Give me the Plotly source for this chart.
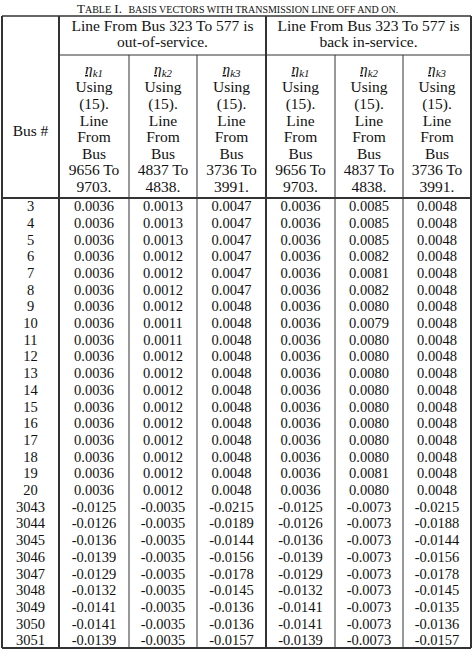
import plotly.graph_objects as go

buses = ["3", "4", "5", "6", "7", "8", "9", "10", "11", "12", "13", "14", "15", "16",
         "17", "18", "19", "20", "3043", "3044", "3045", "3046", "3047", "3048",
         "3049", "3050", "3051"]
off_k1 = ["0.0036"] * 18 + ["-0.0125", "-0.0126", "-0.0136", "-0.0139", "-0.0129",
                            "-0.0132", "-0.0141", "-0.0141", "-0.0139"]
off_k2 = ["0.0013", "0.0013", "0.0013", "0.0012", "0.0012", "0.0012", "0.0012",
          "0.0011", "0.0011", "0.0012", "0.0012", "0.0012", "0.0012", "0.0012",
          "0.0012", "0.0012", "0.0012", "0.0012"] + ["-0.0035"] * 9
off_k3 = ["0.0047"] * 6 + ["0.0048"] * 12 + ["-0.0215", "-0.0189", "-0.0144", "-0.0156",
                                             "-0.0178", "-0.0145", "-0.0136", "-0.0136", "-0.0157"]
on_k1 = list(off_k1)
on_k2 = ["0.0085", "0.0085", "0.0085", "0.0082", "0.0081", "0.0082", "0.0080",
         "0.0079", "0.0080", "0.0080", "0.0080", "0.0080", "0.0080", "0.0080",
         "0.0080", "0.0080", "0.0081", "0.0080"] + ["-0.0073"] * 9
on_k3 = ["0.0048"] * 18 + ["-0.0215", "-0.0188", "-0.0144", "-0.0156", "-0.0178",
                           "-0.0145", "-0.0135", "-0.0136", "-0.0157"]
columns = [buses, off_k1, off_k2, off_k3, on_k1, on_k2, on_k3]

group_titles = ["Line From Bus 323 To 577 is", "Line From Bus 323 To 577 is"]
group_subtitles = ["out-of-service.", "back in-service."]
eta_labels = ["k1", "k2", "k3", "k1", "k2", "k3"]
line_from = ["9656 To", "4837 To", "3736 To"] * 2
line_to = ["9703.", "4838.", "3991."] * 2

# layout (pixel-like axis units)
edges = [2, 59, 129, 197, 266, 335, 403, 471]
thick = {0, 1, 4, 7}
top, mid, hdr, bottom = 16, 55, 198, 648
row0, row_h = 207.5, 16.7
sub_y0, sub_h = 72, 16.6
FONT = "Liberation Serif"

fig = go.Figure()
centres = [(edges[i] + edges[i + 1]) / 2 for i in range(7)]

# data cells
xs, ys, ts = [], [], []
for c, col in enumerate(columns):
    for r, v in enumerate(col):
        xs.append(centres[c]); ys.append(row0 + r * row_h); ts.append(v)
fig.add_trace(go.Scatter(x=xs, y=ys, text=ts, mode="text", hoverinfo="skip",
                         textfont=dict(family=FONT, size=14.5, color="#111")))

# sub-headers
hx, hy, ht = [], [], []
for c in range(6):
    lines = ["<i><u>η</u><sub>%s</sub></i>" % eta_labels[c], "Using", "(15).", "Line",
             "From", "Bus", line_from[c], line_to[c]]
    for j, t in enumerate(lines):
        hx.append(centres[c + 1]); hy.append(sub_y0 + j * sub_h - (2 if j == 0 else 0)); ht.append(t)
hx.append(centres[0]); hy.append((mid + hdr) / 2 + 6); ht.append("Bus #")
for g in range(2):
    cx = (edges[1 + 3 * g] + edges[4 + 3 * g]) / 2
    hx += [cx, cx]; hy += [27, 43]; ht += [group_titles[g], group_subtitles[g]]
fig.add_trace(go.Scatter(x=hx, y=hy, text=ht, mode="text", hoverinfo="skip",
                         textfont=dict(family=FONT, size=15.5, color="#111")))

shapes = []
def line(x0, y0, x1, y1, w):
    shapes.append(dict(type="line", xref="x", yref="y", x0=x0, y0=y0, x1=x1, y1=y1,
                       line=dict(color="#333", width=w)))

for i, x in enumerate(edges):
    w = 2 if i in thick else 1
    if i in (2, 3, 5, 6):
        line(x, mid, x, bottom, w)
    else:
        line(x, top, x, bottom, w)
line(edges[0], top, edges[-1], top, 1.5)
line(edges[1], mid, edges[-1], mid, 1)
line(edges[0], hdr, edges[-1], hdr, 2)
line(edges[0], bottom, edges[-1], bottom, 2)

fig.update_layout(
    width=474, height=650, margin=dict(l=0, r=0, t=0, b=0),
    paper_bgcolor="white", plot_bgcolor="white", showlegend=False,
    shapes=shapes,
    xaxis=dict(range=[0, 474], visible=False, fixedrange=True),
    yaxis=dict(range=[650, 0], visible=False, fixedrange=True),
    annotations=[dict(
        x=237, y=8, xref="x", yref="y", showarrow=False,
        text="T<span style='font-size:10px'>ABLE</span> I.  <span style='font-size:10px'>"
             "BASIS VECTORS WITH TRANSMISSION LINE OFF AND ON.</span>",
        font=dict(family=FONT, size=13, color="#111"))],
)

fig.write_html("out.html", config={"displayModeBar": False},
               post_script="document.body.style.margin='0';document.body.style.overflow='hidden';")
